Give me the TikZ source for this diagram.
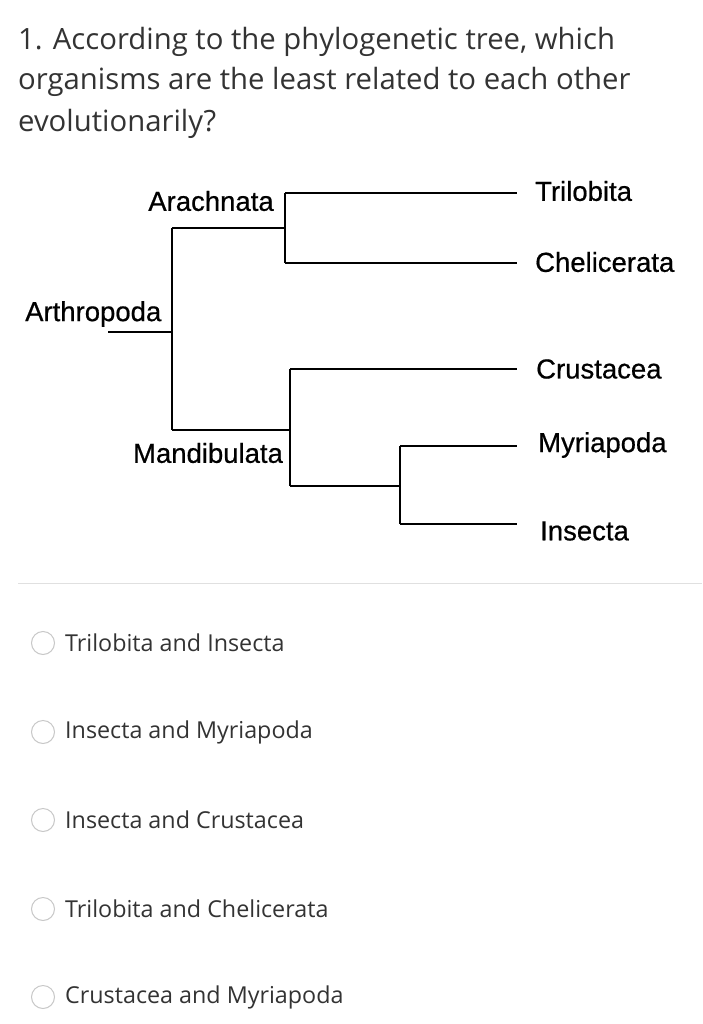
\documentclass[tikz,border=0pt]{standalone}
\usepackage{fontspec}
\setmainfont{Open Sans}
\newfontfamily\arial[FakeBold=0.6]{Liberation Sans}
\definecolor{txt}{HTML}{333333}
\definecolor{sep}{HTML}{E0E0E0}
\definecolor{rad}{HTML}{C8C8C8}
\begin{document}
\begin{tikzpicture}[x=1pt,y=-1pt,
  title/.style={anchor=west,inner sep=0,font=\fontsize{29.3}{32}\selectfont,text=txt},
  taxon/.style={inner sep=0,font=\arial\fontsize{27.5}{29}\selectfont},
  branch/.style={draw=black,line width=1.2pt},
  opt/.style={anchor=west,inner sep=0,font=\fontsize{23.3}{26}\selectfont,text=txt},
  radio/.style={circle,draw=rad,fill=white,minimum size=23pt,inner sep=0,line width=1pt}]
\useasboundingbox[fill=white] (0,0) rectangle (702,1024);
\node[title] (t1) at (18,42) {1. According to the phylogenetic tree, which};
\node[title] (t2) at (18,82) {organisms are the least related to each other};
\node[title] (t3) at (18,124) {evolutionarily?};
% tree
\coordinate (a0) at (108,332); \coordinate (a1) at (172,332);
\coordinate (r1) at (172,228); \coordinate (r2) at (172,430);
\coordinate (u0) at (285,228); \coordinate (u1) at (285,193); \coordinate (u2) at (285,263);
\coordinate (m0) at (290,430); \coordinate (m1) at (290,369); \coordinate (m2) at (290,486);
\coordinate (n0) at (400,486); \coordinate (n1) at (400,446); \coordinate (n2) at (400,524);
\coordinate (e1) at (517,193); \coordinate (e2) at (517,263); \coordinate (e3) at (517,369);
\coordinate (e4) at (517,446); \coordinate (e5) at (517,524);
\draw[branch] (a0)--(a1) (r1)--(r2) (r1)--(u0) (u1)--(u2) (u1)--(e1) (u2)--(e2)
  (r2)--(m0) (m1)--(m2) (m1)--(e3) (m2)--(n0) (n1)--(n2) (n1)--(e4) (n2)--(e5);
\node[taxon,anchor=west] (arth) at (25,314) {Arthropoda};
\node[taxon] (arach) at (211,201) {Arachnata};
\node[taxon] (mand) at (208,453) {Mandibulata};
\node[taxon,anchor=west] (tri) at (535,191) {Trilobita};
\node[taxon,anchor=west] (che) at (535,262) {Chelicerata};
\node[taxon,anchor=west] (cru) at (536,369) {Crustacea};
\node[taxon,anchor=west] (myr) at (538,445) {Myriapoda};
\node[taxon,anchor=west] (ins) at (540,531) {Insecta};
\draw[sep,line width=1pt] (18,583)--(702,583);
\foreach \y/\t [count=\i] in {643/Trilobita and Insecta,732/Insecta and Myriapoda,820/Insecta and Crustacea,909/Trilobita and Chelicerata,997/Crustacea and Myriapoda}{
  \node[radio] (c\i) at (43,\y) {};
  \node[opt] (o\i) at (65,\y) {\t};
}
\end{tikzpicture}
\end{document}
